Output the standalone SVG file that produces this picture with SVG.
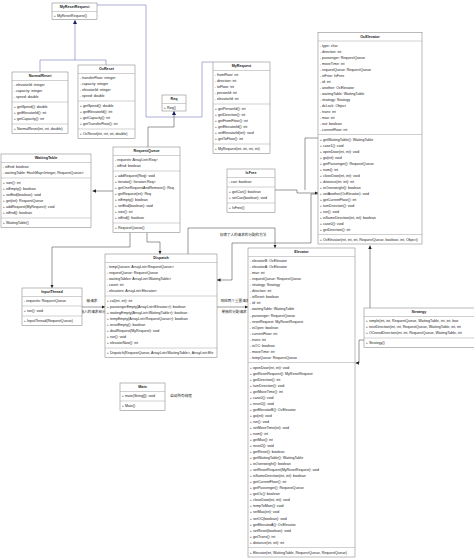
<svg xmlns="http://www.w3.org/2000/svg" width="474" height="559" viewBox="0 0 474 559">
<style>
.box{fill:#fff;stroke:#8c8c8c;stroke-width:0.6}
.sep{stroke:#a0a0a0;stroke-width:0.5}
text{font-family:"Liberation Sans",Arial,sans-serif;font-size:3.6px;fill:#222}
.h{font-weight:bold;text-anchor:middle;font-size:3.7px}
.lab{font-family:"Noto Sans CJK SC","Liberation Sans",sans-serif;font-size:3.6px;text-anchor:middle}
.ln{fill:none;stroke:#333;stroke-width:0.5}
.bl{fill:none;stroke:#7b7bc0;stroke-width:0.6}
</style>
<defs>
<marker id="a" markerUnits="userSpaceOnUse" markerWidth="4" markerHeight="4" refX="3.5" refY="1.75" orient="auto"><path d="M0,0 L3.5,1.75 L0,3.5 z" fill="#222"/></marker>
<marker id="t" markerUnits="userSpaceOnUse" markerWidth="5" markerHeight="5" refX="4" refY="2" orient="auto"><path d="M0,0 L4,2 L0,4 z" fill="#1a1a6e"/></marker>
<clipPath id="cpD"><rect x="0" y="0" width="112" height="103.5"/></clipPath>
<clipPath id="cpO"><rect x="0" y="0" width="104" height="211.5"/></clipPath>
</defs>

<g id="connectors">
<path class="bl" d="M40,72 V60 H106 V65 M75,60 V20" marker-end="url(#t)"/>
<path class="bl" d="M97,5 H146 V117 H202 V62 H213"/>
<path class="ln" d="M148,147 V127 H174 V111" marker-end="url(#t)"/>
<path class="ln" d="M113,191 H92.5" marker-end="url(#a)"/>
<path class="ln" d="M130,232.5 V247 H52 V288" marker-end="url(#a)"/>
<path class="ln" d="M147,232.5 V242 H160 V254" marker-end="url(#a)"/>
<path class="ln" d="M82,307 H105" marker-end="url(#a)"/>
<path class="ln" d="M217,307 H248" marker-end="url(#a)"/>
<path class="ln" d="M188,254 V228 H275 V248" marker-end="url(#a)"/>
<path class="ln" d="M318,194 H311 V243 H232 V280 H217" marker-end="url(#a)"/>
<path class="ln" d="M275,190 H297 V193 H318" marker-end="url(#a)"/>
<path class="ln" d="M318,138 H305 V190"/>
<path class="ln" d="M370,308 V245.5" marker-end="url(#a)"/>
<path class="ln" d="M364,340 H359 V363 H355.5" marker-end="url(#a)"/>
</g>

<g id="labels">
<text class="lab" x="92" y="302">输请求</text>
<text class="lab" x="93" y="313">将输入的请求给分配</text>
<text class="lab" x="235" y="302">响应两个重置请求</text>
<text class="lab" x="234" y="313">单独的分配请求</text>
<text class="lab" x="243" y="236">存储了人的请求的分配的方法</text>
<text class="lab" x="181" y="397">启动所有线程</text>
</g>

<g id="MyResetRequest" transform="translate(52,3)">
<rect class="box" width="45" height="16.5"/>
<text class="h" x="22.5" y="5.2">MyResetRequest</text>
<line class="sep" x1="0" y1="8.5" x2="45" y2="8.5"/>
<text x="1.8" y="13.7">+ MyResetRequest()</text>
</g>

<g id="NormalReset" transform="translate(12,72)">
<rect class="box" width="56" height="61.5"/>
<text class="h" x="28" y="5.2">NormalReset</text>
<line class="sep" x1="0" y1="8.5" x2="56" y2="8.5"/>
<text x="1.8" y="14.2">- elevatorId: integer</text>
<text x="1.8" y="20.2">- capacity: integer</text>
<text x="1.8" y="26.2">- speed: double</text>
<line class="sep" x1="0" y1="30" x2="56" y2="30"/>
<text x="1.8" y="36.2">+ getSpeed(): double</text>
<text x="1.8" y="42.2">+ getElevatorId(): int</text>
<text x="1.8" y="48.2">+ getCapacity(): int</text>
<line class="sep" x1="0" y1="52" x2="56" y2="52"/>
<text x="1.8" y="58.2">+ NormalReset(int, int, double)</text>
</g>

<g id="OcReset" transform="translate(78,65)">
<rect class="box" width="57" height="73.5"/>
<text class="h" x="28.5" y="5.2">OcReset</text>
<line class="sep" x1="0" y1="8.5" x2="57" y2="8.5"/>
<text x="1.8" y="14.2">- transferFloor: integer</text>
<text x="1.8" y="20.2">- capacity: integer</text>
<text x="1.8" y="26.2">- elevatorId: integer</text>
<text x="1.8" y="32.2">- speed: double</text>
<line class="sep" x1="0" y1="36" x2="57" y2="36"/>
<text x="1.8" y="42.2">+ getSpeed(): double</text>
<text x="1.8" y="48.2">+ getElevatorId(): int</text>
<text x="1.8" y="54.2">+ getCapacity(): int</text>
<text x="1.8" y="60.2">+ getTransferFloor(): int</text>
<line class="sep" x1="0" y1="64" x2="57" y2="64"/>
<text x="1.8" y="70.2">+ OcReset(int, int, int, double)</text>
</g>

<g id="Req" transform="translate(162,95)">
<rect class="box" width="24" height="16"/>
<text class="h" x="12" y="5.2">Req</text>
<line class="sep" x1="0" y1="8.5" x2="24" y2="8.5"/>
<text x="1.8" y="13.5">+ Req()</text>
</g>

<g id="MyRequest" transform="translate(213,62)">
<rect class="box" width="57" height="91.5"/>
<text class="h" x="28.5" y="5.2">MyRequest</text>
<line class="sep" x1="0" y1="8.5" x2="57" y2="8.5"/>
<text x="1.8" y="14.2">- fromFloor: int</text>
<text x="1.8" y="20.2">- direction: int</text>
<text x="1.8" y="26.2">- toFloor: int</text>
<text x="1.8" y="32.2">- personId: int</text>
<text x="1.8" y="38.2">- elevatorId: int</text>
<line class="sep" x1="0" y1="42" x2="57" y2="42"/>
<text x="1.8" y="48.2">+ getPersonId(): int</text>
<text x="1.8" y="54.2">+ getDirection(): int</text>
<text x="1.8" y="60.2">+ getFromFloor(): int</text>
<text x="1.8" y="66.2">+ getElevatorId(): int</text>
<text x="1.8" y="72.2">+ setElevatorId(int): void</text>
<text x="1.8" y="78.2">+ getToFloor(): int</text>
<line class="sep" x1="0" y1="82" x2="57" y2="82"/>
<text x="1.8" y="88.2">+ MyRequest(int, int, int, int)</text>
</g>

<g id="OcElevator" transform="translate(318,32.5)">
<rect class="box" width="104" height="211.5"/>
<g clip-path="url(#cpO)">
<text class="h" x="52" y="5.2">OcElevator</text>
<line class="sep" x1="0" y1="8.5" x2="104" y2="8.5"/>
<text x="1.8" y="14.2">- type: char</text>
<text x="1.8" y="20.2">- direction: int</text>
<text x="1.8" y="26.2">- passenger: RequestQueue</text>
<text x="1.8" y="32.2">- moveTime: int</text>
<text x="1.8" y="38.2">- requestQueue: RequestQueue</text>
<text x="1.8" y="44.2">- isFree: IsFree</text>
<text x="1.8" y="50.2">- id: int</text>
<text x="1.8" y="56.2">- another: OcElevator</text>
<text x="1.8" y="62.2">- waitingTable: WaitingTable</text>
<text x="1.8" y="68.2">- strategy: Strategy</text>
<text x="1.8" y="74.2">- dcLock: Object</text>
<text x="1.8" y="80.2">- trans: int</text>
<text x="1.8" y="86.2">- max: int</text>
<text x="1.8" y="92.2">- out: boolean</text>
<text x="1.8" y="98.2">- currentFloor: int</text>
<line class="sep" x1="0" y1="102" x2="104" y2="102"/>
<text x="1.8" y="108.2">+ getWaitingTable(): WaitingTable</text>
<text x="1.8" y="114.2">+ case1(): void</text>
<text x="1.8" y="120.2">+ openDoor(int, int): void</text>
<text x="1.8" y="126.2">+ go(int): void</text>
<text x="1.8" y="132.2">+ getPassenger(): RequestQueue</text>
<text x="1.8" y="138.2">+ num(): int</text>
<text x="1.8" y="144.2">+ closeDoor(int, int): void</text>
<text x="1.8" y="150.2">+ distance(int, int): int</text>
<text x="1.8" y="156.2">+ isOverweight(): boolean</text>
<text x="1.8" y="162.2">+ setAnother(OcElevator): void</text>
<text x="1.8" y="168.2">+ getCurrentFloor(): int</text>
<text x="1.8" y="174.2">+ turnDirection(): void</text>
<text x="1.8" y="180.2">+ run(): void</text>
<text x="1.8" y="186.2">+ isSameDirection(int, int): boolean</text>
<text x="1.8" y="192.2">+ case0(): void</text>
<text x="1.8" y="198.2">+ getDirection(): int</text>
<line class="sep" x1="0" y1="202" x2="104" y2="202"/>
<text x="1.8" y="208.2">+ OcElevator(int, int, int, RequestQueue, boolean, int, Object)</text>
</g>
</g>

<g id="WaitingTable" transform="translate(1,154)">
<rect class="box" width="90" height="73.5"/>
<text class="h" x="45" y="5.2">WaitingTable</text>
<line class="sep" x1="0" y1="8.5" x2="90" y2="8.5"/>
<text x="1.8" y="14.2">- isEnd: boolean</text>
<text x="1.8" y="20.2">- waitingTable: HashMap&lt;Integer, RequestQueue&gt;</text>
<line class="sep" x1="0" y1="24" x2="90" y2="24"/>
<text x="1.8" y="30.2">+ size(): int</text>
<text x="1.8" y="36.2">+ isEmpty(): boolean</text>
<text x="1.8" y="42.2">+ setEnd(boolean): void</text>
<text x="1.8" y="48.2">+ get(int): RequestQueue</text>
<text x="1.8" y="54.2">+ addRequest(MyRequest): void</text>
<text x="1.8" y="60.2">+ isEnd(): boolean</text>
<line class="sep" x1="0" y1="64" x2="90" y2="64"/>
<text x="1.8" y="70.2">+ WaitingTable()</text>
</g>

<g id="RequestQueue" transform="translate(113,147)">
<rect class="box" width="67" height="85.5"/>
<text class="h" x="33.5" y="5.2">RequestQueue</text>
<line class="sep" x1="0" y1="8.5" x2="67" y2="8.5"/>
<text x="1.8" y="14.2">- requests: ArrayList&lt;Req&gt;</text>
<text x="1.8" y="20.2">- isEnd: boolean</text>
<line class="sep" x1="0" y1="24" x2="67" y2="24"/>
<text x="1.8" y="30.2">+ addRequest(Req): void</text>
<text x="1.8" y="36.2">+ iterator(): Iterator&lt;Req&gt;</text>
<text x="1.8" y="42.2">+ getOneRequestAndRemove(): Req</text>
<text x="1.8" y="48.2">+ getRequest(int): Req</text>
<text x="1.8" y="54.2">+ isEmpty(): boolean</text>
<text x="1.8" y="60.2">+ setEnd(boolean): void</text>
<text x="1.8" y="66.2">+ size(): int</text>
<text x="1.8" y="72.2">+ isEnd(): boolean</text>
<line class="sep" x1="0" y1="76" x2="67" y2="76"/>
<text x="1.8" y="82.2">+ RequestQueue()</text>
</g>

<g id="IsFree" transform="translate(227,169)">
<rect class="box" width="48" height="43.5"/>
<text class="h" x="24" y="5.2">IsFree</text>
<line class="sep" x1="0" y1="8.5" x2="48" y2="8.5"/>
<text x="1.8" y="14.2">- can: boolean</text>
<line class="sep" x1="0" y1="18" x2="48" y2="18"/>
<text x="1.8" y="24.2">+ getCan(): boolean</text>
<text x="1.8" y="30.2">+ setCan(boolean): void</text>
<line class="sep" x1="0" y1="34" x2="48" y2="34"/>
<text x="1.8" y="40.2">+ IsFree()</text>
</g>

<g id="Dispatch" transform="translate(105,254)">
<rect class="box" width="112" height="103.5"/>
<g clip-path="url(#cpD)">
<text class="h" x="56" y="5.2">Dispatch</text>
<line class="sep" x1="0" y1="8.5" x2="112" y2="8.5"/>
<text x="1.8" y="14.2">- tempQueues: ArrayList&lt;RequestQueue&gt;</text>
<text x="1.8" y="20.2">- requestQueue: RequestQueue</text>
<text x="1.8" y="26.2">- waitingTables: ArrayList&lt;WaitingTable&gt;</text>
<text x="1.8" y="32.2">- count: int</text>
<text x="1.8" y="38.2">- elevators: ArrayList&lt;Elevator&gt;</text>
<line class="sep" x1="0" y1="42" x2="112" y2="42"/>
<text x="1.8" y="48.2">+ cal(int, int): int</text>
<text x="1.8" y="54.2">+ passengerEmpty(ArrayList&lt;Elevator&gt;): boolean</text>
<text x="1.8" y="60.2">+ waitingEmpty(ArrayList&lt;WaitingTable&gt;): boolean</text>
<text x="1.8" y="66.2">+ tempEmpty(ArrayList&lt;RequestQueue&gt;): boolean</text>
<text x="1.8" y="72.2">+ resetEmpty(): boolean</text>
<text x="1.8" y="78.2">+ dealRequest(MyRequest): void</text>
<text x="1.8" y="84.2">+ run(): void</text>
<text x="1.8" y="90.2">+ elevatorNow(): int</text>
<line class="sep" x1="0" y1="94" x2="112" y2="94"/>
<text x="1.8" y="100.2">+ Dispatch(RequestQueue, ArrayList&lt;WaitingTable&gt;, ArrayList&lt;Ele</text>
</g>
</g>

<g id="InputThread" transform="translate(22,288)">
<rect class="box" width="60" height="37.5"/>
<text class="h" x="30" y="5.2">InputThread</text>
<line class="sep" x1="0" y1="8.5" x2="60" y2="8.5"/>
<text x="1.8" y="14.2">- requests: RequestQueue</text>
<line class="sep" x1="0" y1="18" x2="60" y2="18"/>
<text x="1.8" y="24.2">+ run(): void</text>
<line class="sep" x1="0" y1="28" x2="60" y2="28"/>
<text x="1.8" y="34.2">+ InputThread(RequestQueue)</text>
</g>

<g id="Elevator" transform="translate(248,248)">
<rect class="box" width="107" height="309"/>
<text class="h" x="53.5" y="5.2">Elevator</text>
<line class="sep" x1="0" y1="8.5" x2="107" y2="8.5"/>
<text x="1.8" y="14.2">- elevatorB: OcElevator</text>
<text x="1.8" y="20.2">- elevatorA: OcElevator</text>
<text x="1.8" y="26.3">- max: int</text>
<text x="1.8" y="32.3">- requestQueue: RequestQueue</text>
<text x="1.8" y="38.3">- strategy: Strategy</text>
<text x="1.8" y="44.4">- direction: int</text>
<text x="1.8" y="50.4">- isReset: boolean</text>
<text x="1.8" y="56.4">- id: int</text>
<text x="1.8" y="62.4">- waitingTable: WaitingTable</text>
<text x="1.8" y="68.5">- passenger: RequestQueue</text>
<text x="1.8" y="74.5">- resetRequest: MyResetRequest</text>
<text x="1.8" y="80.5">- isOpen: boolean</text>
<text x="1.8" y="86.6">- currentFloor: int</text>
<text x="1.8" y="92.6">- trans: int</text>
<text x="1.8" y="98.6">- isOC: boolean</text>
<text x="1.8" y="104.7">- moveTime: int</text>
<text x="1.8" y="110.7">- tempQueue: RequestQueue</text>
<line class="sep" x1="0" y1="114.5" x2="107" y2="114.5"/>
<text x="1.8" y="120.7">+ openDoor(int, int): void</text>
<text x="1.8" y="126.7">+ getResetRequest(): MyResetRequest</text>
<text x="1.8" y="132.8">+ getDirection(): int</text>
<text x="1.8" y="138.8">+ turnDirection(): void</text>
<text x="1.8" y="144.8">+ getMoveTime(): int</text>
<text x="1.8" y="150.9">+ case0(): void</text>
<text x="1.8" y="156.9">+ reset1(): void</text>
<text x="1.8" y="162.9">+ getElevatorB(): OcElevator</text>
<text x="1.8" y="168.9">+ go(int): void</text>
<text x="1.8" y="175">+ run(): void</text>
<text x="1.8" y="181">+ setMoveTime(int): void</text>
<text x="1.8" y="187">+ num(): int</text>
<text x="1.8" y="193.1">+ getMax(): int</text>
<text x="1.8" y="199.1">+ reset2(): void</text>
<text x="1.8" y="205.1">+ getReset(): boolean</text>
<text x="1.8" y="211.2">+ getWaitingTable(): WaitingTable</text>
<text x="1.8" y="217.2">+ isOverweight(): boolean</text>
<text x="1.8" y="223.2">+ setResetRequest(MyResetRequest): void</text>
<text x="1.8" y="229.2">+ isSameDirection(int, int): boolean</text>
<text x="1.8" y="235.3">+ getCurrentFloor(): int</text>
<text x="1.8" y="241.3">+ getPassenger(): RequestQueue</text>
<text x="1.8" y="247.3">+ getOc(): boolean</text>
<text x="1.8" y="253.4">+ closeDoor(int, int): void</text>
<text x="1.8" y="259.4">+ tempToMain(): void</text>
<text x="1.8" y="265.4">+ setMax(int): void</text>
<text x="1.8" y="271.5">+ setOC(boolean): void</text>
<text x="1.8" y="277.5">+ getElevatorA(): OcElevator</text>
<text x="1.8" y="283.5">+ setReset(boolean): void</text>
<text x="1.8" y="289.5">+ getTrans(): int</text>
<text x="1.8" y="295.6">+ distance(int, int): int</text>
<line class="sep" x1="0" y1="299.5" x2="107" y2="299.5"/>
<text x="1.8" y="305.7">+ Elevator(int, WaitingTable, RequestQueue, RequestQueue)</text>
</g>

<g id="Strategy" transform="translate(364,308)">
<rect class="box" width="112" height="39.5"/>
<text class="h" x="55" y="5.2">Strategy</text>
<line class="sep" x1="0" y1="8.5" x2="112" y2="8.5"/>
<text x="1.8" y="14.2">+ simple(int, int, RequestQueue, WaitingTable, int, int, boo</text>
<text x="1.8" y="20.2">+ nextDirection(int, int, RequestQueue, WaitingTable, int, int</text>
<text x="1.8" y="26.2">+ OCneedDirection(int, int, RequestQueue, WaitingTable, int</text>
<line class="sep" x1="0" y1="30" x2="112" y2="30"/>
<text x="1.8" y="36.2">+ Strategy()</text>
</g>

<g id="Main" transform="translate(120,383)">
<rect class="box" width="45" height="27.5"/>
<text class="h" x="22.5" y="5.2">Main</text>
<line class="sep" x1="0" y1="8.5" x2="45" y2="8.5"/>
<text x="1.8" y="14.2">+ main(String[]): void</text>
<line class="sep" x1="0" y1="18" x2="45" y2="18"/>
<text x="1.8" y="24.2">+ Main()</text>
</g>
</svg>
